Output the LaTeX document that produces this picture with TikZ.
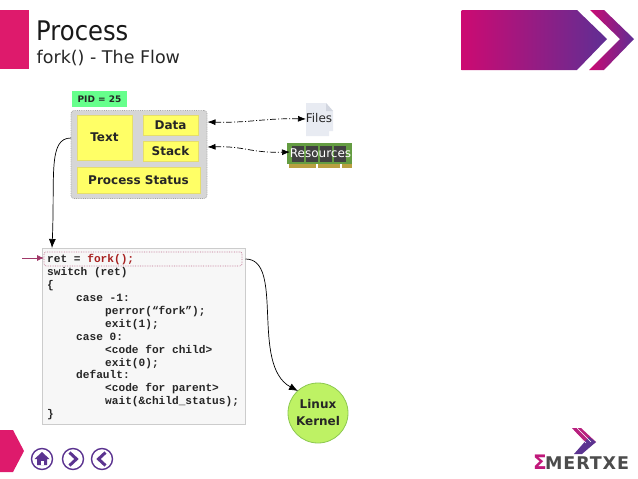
\documentclass[tikz,border=0pt]{standalone}
\usepackage{fontspec}
\setmainfont{DejaVu Sans}
\newfontfamily\codefont{Liberation Mono}
\newfontfamily\logofont[LetterSpace=5]{DejaVu Sans}
\newfontfamily\titlefont[FakeStretch=0.9]{DejaVu Sans}
\usetikzlibrary{arrows.meta,shadings}
\definecolor{pinkbar}{HTML}{DE1A6C}
\definecolor{purp}{HTML}{5B3390}
\definecolor{yel}{HTML}{FFFF66}
\definecolor{yelb}{HTML}{E6DE6A}
\definecolor{grayb}{HTML}{D6D6D6}
\definecolor{gradl}{HTML}{CC0A72}
\definecolor{gradr}{HTML}{5F2E94}
\definecolor{pidg}{HTML}{66FF8C}
\definecolor{pagec}{HTML}{E8EBF2}
\definecolor{pagef}{HTML}{D2D6E0}
\definecolor{memg}{HTML}{649C42}
\definecolor{memp}{HTML}{B8A040}
\definecolor{hlc}{HTML}{C07090}
\definecolor{forkc}{HTML}{A82020}
\definecolor{kernb}{HTML}{8CC850}
\definecolor{kernf}{HTML}{BEF264}
\definecolor{pinc}{HTML}{A03868}
\definecolor{logop}{HTML}{B8207E}
\definecolor{logos}{HTML}{C0187A}
\tikzset{
  seg/.style={draw=yelb,fill=yel,line width=.8pt,inner sep=0pt,font=\bfseries\fontsize{12}{14}\selectfont,text=black!85},
  link/.style={draw=black,line width=.7pt,-{Latex[length=9pt,width=7pt]}},
  duplex/.style={draw=black,line width=.7pt,dash pattern=on 6pt off 2pt on 1pt off 2pt,{Latex[length=8pt,width=6pt]}-{Latex[length=8pt,width=6pt]}},
  navbtn/.style={circle,draw=purp,line width=1.4pt,fill=white,minimum size=21pt,inner sep=0pt},
  navmark/.style={draw=purp,line width=3pt,line cap=butt},
}
\begin{document}
\begin{tikzpicture}[x=1pt,y=-1pt]
\useasboundingbox (0,0) rectangle (638,479);
% header
\fill[pinkbar] (0,10) rectangle (29,69);
\node[anchor=base west,inner sep=0pt,font=\titlefont\fontsize{27}{30}\selectfont,text=black!90] (title) at (36,40) {Process};
\node[anchor=base west,inner sep=0pt,font=\fontsize{17.5}{20}\selectfont,text=black!85] (subtitle) at (36.5,63) {fork() - The Flow};
\shade[left color=gradl,right color=gradr] (461.5,10) -- (577,10) -- (607,39) -- (577,70) -- (461.5,70) -- cycle;
\shade[left color=gradl,right color=gradr] (590,10) -- (604,10) -- (634,39) -- (604,70) -- (589,70) -- (620,39) -- cycle;
% process image
\node[draw=gray!70,densely dotted,fill=grayb,rounded corners=3pt,line width=.8pt,minimum width=136pt,minimum height=88pt,inner sep=0pt] (proc) at (139,154.5) {};
\node[fill=pidg,minimum width=55pt,minimum height=16pt,inner sep=0pt,font=\bfseries\fontsize{9}{11}\selectfont,text=black!85] (pid) at (99.5,99) {PID = 25};
\node[seg,minimum width=55pt,minimum height=45pt] (text) at (104.5,137.5) {Text};
\node[seg,minimum width=55pt,minimum height=20pt] (data) at (170.5,125) {Data};
\node[seg,minimum width=55pt,minimum height=20pt] (stack) at (170.5,151) {Stack};
\node[seg,minimum width=123pt,minimum height=26pt] (status) at (138.5,180) {Process Status};
% files icon
\fill[pagec] (306,103) -- (326,103) -- (333,111) -- (333,131) -- (329,131) -- (329,136) -- (306,136) -- cycle;
\fill[pagef] (326,103) -- (333,111) -- (326,111) -- cycle;
\node[inner sep=0pt,font=\fontsize{12}{14}\selectfont,text=black!85] (files) at (319,118) {Files};
% memory icon
\fill[memg] (287,143) rectangle (352,164);
\foreach \x in {292,306,320,334} \fill[black!75] (\x,146) rectangle +(12,16);
\fill[memp] (289,164) rectangle (352,168);
\foreach \x in {316,340} \fill[white] (\x,164) rectangle +(2,4);
\node[inner sep=0pt,font=\fontsize{12}{14}\selectfont,text=white] (res) at (320.5,153) {Resources};
% connectors top
\coordinate (pa) at (207.5,122);
\coordinate (pb) at (207.5,147);
\coordinate (fa) at (306,119);
\coordinate (ra) at (290,152);
\draw[duplex] (pa) .. controls (250,123) and (265,118) .. (fa);
\draw[duplex] (pb) .. controls (245,146) and (250,153) .. (ra);
% code
\node[draw=black!20,fill=black!3,line width=.8pt,minimum width=203.5pt,minimum height=176pt,inner sep=0pt] (code) at (143.8,336) {};
\node[draw=hlc,densely dotted,rounded corners=2pt,line width=.7pt,minimum width=198pt,minimum height=14pt,inner sep=0pt] (hl) at (143,259) {};
\node[anchor=north west,inner sep=0pt,align=left,font=\codefont\bfseries\fontsize{11.15}{12.95}\selectfont,text=black!85] (src) at (47,254) {%
ret = \textcolor{forkc}{fork();}\\
switch (ret)\\
\{\\
\hspace*{29pt}case -1:\\
\hspace*{58pt}perror(“fork”);\\
\hspace*{58pt}exit(1);\\
\hspace*{29pt}case 0:\\
\hspace*{58pt}<code for child>\\
\hspace*{58pt}exit(0);\\
\hspace*{29pt}default:\\
\hspace*{58pt}<code for parent>\\
\hspace*{58pt}wait(\&child\_status);\\
\}};
% kernel
\node[circle,draw=kernb,fill=kernf,line width=.8pt,minimum size=60pt,inner sep=0pt,align=center,font=\bfseries\fontsize{12}{17}\selectfont,text=black!85] (kernel) at (318,413) {Linux\\Kernel};
\coordinate (pin) at (22,258);
\coordinate (hlin) at (44,258);
\draw[draw=pinc,line width=.8pt,-{Latex[length=7pt,width=6pt]}] (pin) -- (hlin);
\coordinate (cstart) at (71,138);
\coordinate (cend) at (52,248);
\draw[link] (cstart) .. controls (48,138) and (55,175) .. (cend);
\coordinate (kstart) at (245.5,259);
\coordinate (kend) at (298,391);
\draw[link] (kstart) .. controls (285,259) and (250,365) .. (kend);
% footer
\fill[pinkbar] (0,430) -- (13,430) -- (24,451) -- (13,472) -- (0,472) -- cycle;
\node[navbtn] (home) at (42,459) {};
\node[navbtn] (next) at (73,459) {};
\node[navbtn] (prev) at (102,459) {};
\fill[purp] (34.5,459) -- (42,452) -- (49.5,459) -- (47,459) -- (47,465) -- (37,465) -- (37,459) -- cycle;
\fill[white] (40.5,461) rectangle (43.5,465);
\draw[navmark] (69.5,452.5) -- (76.5,459) -- (69.5,465.5);
\draw[navmark] (105.5,452.5) -- (98.5,459) -- (105.5,465.5);
% logo
\fill[logop] (572,428) -- (581,428) -- (596,442) -- (589,447) -- cycle;
\fill[purp] (589,437) -- (596,442) -- (582,454) -- (574,454) -- cycle;
\draw[white,line width=.5pt] (577,428) -- (591,442) (573.5,431) -- (586,443);
\node[anchor=base west,inner sep=0pt,font=\bfseries\fontsize{20}{22}\selectfont,text=logos] (sigma) at (533,469) {Σ};
\node[anchor=base west,inner sep=0pt,font=\logofont\bfseries\fontsize{17.5}{22}\selectfont,text=black!70] (logo) at (545,469) {MERTXE};
\end{tikzpicture}
\end{document}
